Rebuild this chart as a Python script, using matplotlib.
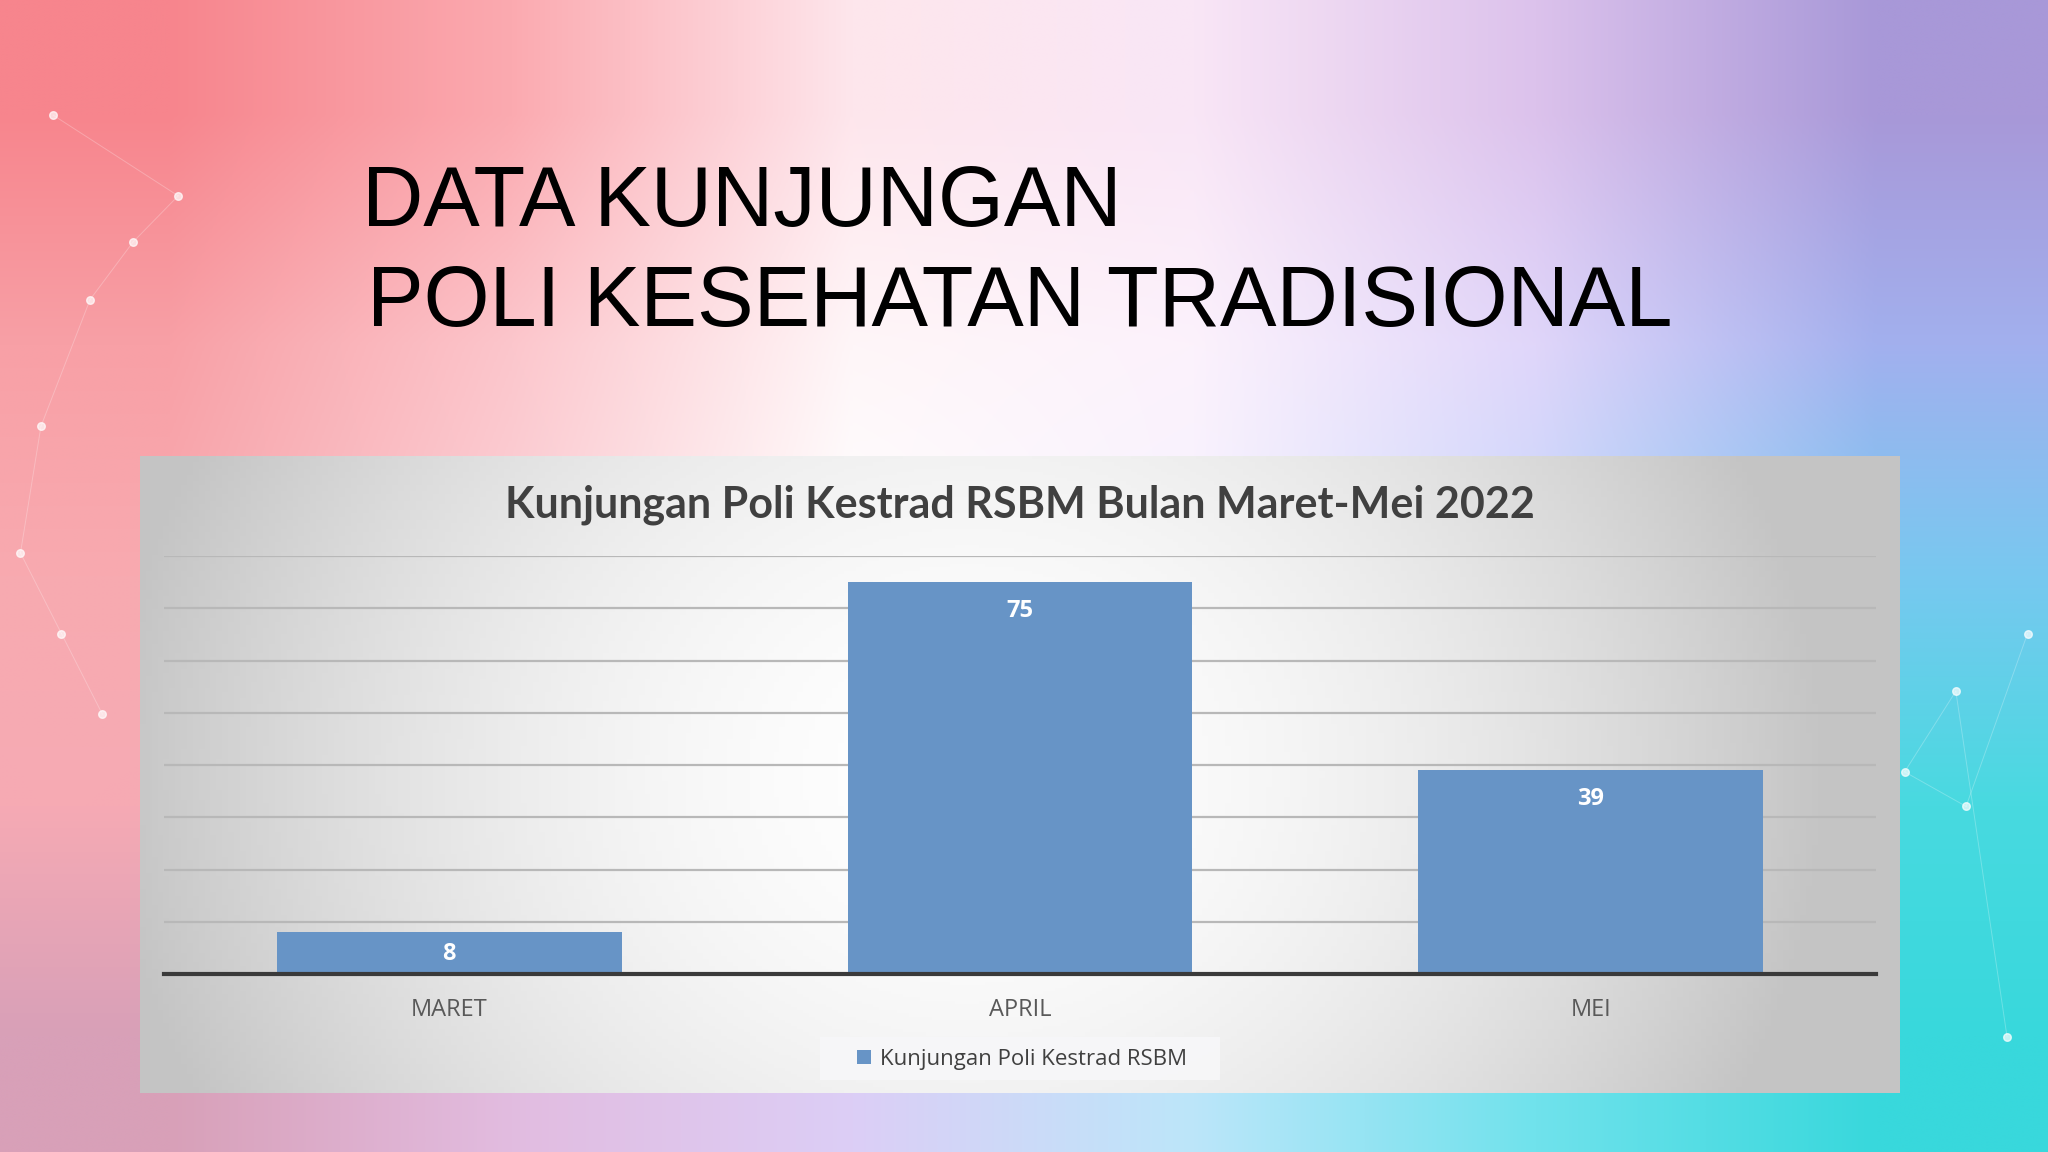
# -*- coding: utf-8 -*-
"""
Slide: DATA KUNJUNGAN POLI KESEHATAN TRADISIONAL
Bar chart kunjungan Poli Kestrad RSBM, Maret-Mei 2022
"""

import numpy as np
import matplotlib
matplotlib.use("Agg")
import matplotlib.pyplot as plt
from matplotlib.patches import Rectangle

# data
months = ["MARET", "APRIL", "MEI"]
visits = [8, 75, 39]
series_name = "Kunjungan Poli Kestrad RSBM"
chart_title = "Kunjungan Poli Kestrad RSBM Bulan Maret-Mei 2022"
slide_title = ["DATA KUNJUNGAN", "POLI KESEHATAN TRADISIONAL"]

BAR_COLOR = "#6794c6"
TEXT_DARK = "#404040"
TICK_COLOR = "#595959"

W, H = 2048, 1152
fig = plt.figure(figsize=(W / 100, H / 100), dpi=100)

# slide background (soft pink -> white -> purple/cyan gradient)
bg = fig.add_axes([0, 0, 1, 1], zorder=0)
grid_hex = [
    ["#f7858d", "#fbaab0", "#fee6ec", "#f9e6f6", "#dcc2ec", "#a898d8"],
    ["#f8a0a6", "#fcc6cc", "#fff6f8", "#fcf2fc", "#e0d6fa", "#a2b0ee"],
    ["#f8aab0", "#fbd0d6", "#ffffff", "#f6f2ff", "#c8d8fc", "#78c8f0"],
    ["#f6aab4", "#f6c6d6", "#f2eefc", "#d8e8fc", "#90e4f0", "#48dae0"],
    ["#d8a0b8", "#e2bce0", "#dccef6", "#bce6fa", "#70e2ec", "#38d8dc"],
]
grid_rgb = np.array([[matplotlib.colors.to_rgb(c) for c in row] for row in grid_hex])
bg.imshow(grid_rgb, extent=[0, 1, 0, 1], aspect="auto", interpolation="bilinear")
bg.set_xlim(0, 1)
bg.set_ylim(0, 1)
bg.axis("off")

# faint network decoration
nodes_left = [(0.026, 0.90), (0.087, 0.83), (0.065, 0.79), (0.044, 0.74), (0.02, 0.63),
              (0.01, 0.52), (0.03, 0.45), (0.05, 0.38)]
nodes_right = [(0.98, 0.10), (0.955, 0.40), (0.93, 0.33), (0.96, 0.30), (0.99, 0.45)]
for pts in (nodes_left, nodes_right):
    xs, ys = zip(*pts)
    for i in range(len(pts) - 1):
        bg.plot([xs[i], xs[i + 1]], [ys[i], ys[i + 1]], color="white", lw=0.7, alpha=0.25)
    bg.scatter(xs, ys, s=30, color="white", alpha=0.7, zorder=3)

# slide title
bg.text(362 / W, 1 - 226 / H, slide_title[0], fontsize=61, family="Liberation Sans",
        color="black", ha="left", va="baseline")
bg.text(367 / W, 1 - 326 / H, slide_title[1], fontsize=61, family="Liberation Sans",
        color="black", ha="left", va="baseline")

# chart panel (grey edges, white centre)
px0, px1, py0, py1 = 140, 1900, 456, 1093
panel = fig.add_axes([px0 / W, 1 - py1 / H, (px1 - px0) / W, (py1 - py0) / H], zorder=1)
gx, gy = np.meshgrid(np.linspace(-1, 1, 300), np.linspace(-1, 1, 200))
r = np.sqrt(((gx + 0.06) / 1.0) ** 2 + (gy / 2.4) ** 2)
shade = np.clip(1 - 0.24 * r ** 1.8, 0.77, 1.0)
panel.imshow(np.dstack([shade, shade, shade]), extent=[0, 1, 0, 1], aspect="auto")
panel.set_xlim(0, 1)
panel.set_ylim(0, 1)
panel.axis("off")

panel.text(0.5, 1 - (505 - py0) / (py1 - py0), chart_title, fontsize=31, family="Lato",
           fontweight="bold", color=TEXT_DARK, ha="center", va="center")

# legend box
lx0, lx1, ly0, ly1 = 820, 1220, 1037, 1080
panel.add_patch(Rectangle(((lx0 - px0) / (px1 - px0), 1 - (ly1 - py0) / (py1 - py0)),
                          (lx1 - lx0) / (px1 - px0), (ly1 - ly0) / (py1 - py0),
                          facecolor="#f7f7f9", edgecolor="none", alpha=0.9))

# bar plot area
ax = fig.add_axes([164 / W, 1 - 974 / H, (1876 - 164) / W, (974 - 556) / H], zorder=2)
ax.patch.set_alpha(0)
x = np.arange(len(months))
bars = ax.bar(x, visits, width=0.604, color=BAR_COLOR, edgecolor="none", zorder=3,
              label=series_name)
ax.set_xlim(-0.5, len(months) - 0.5)
ax.set_ylim(0, 80)
ax.set_yticks(np.arange(10, 81, 10))
ax.yaxis.grid(True, color="#b8b8b8", linewidth=1.6, zorder=1)
ax.set_axisbelow(True)
for s in ["top", "right", "left"]:
    ax.spines[s].set_visible(False)
ax.spines["bottom"].set_color("#3a3a3a")
ax.spines["bottom"].set_linewidth(3)
ax.spines["bottom"].set_zorder(4)
ax.tick_params(axis="y", left=False, labelleft=False)
ax.tick_params(axis="x", bottom=False, pad=14)
ax.set_xticks(x)
ax.set_xticklabels(months, fontsize=17, family="Open Sans", color=TICK_COLOR)

# data labels inside the bar end
px_per_unit = (974 - 556) / 80
for b, v in zip(bars, visits):
    off_px = min(25, v * px_per_unit / 2 - 3) + 4
    ax.annotate(str(v), (b.get_x() + b.get_width() / 2, v), xytext=(0, -off_px * 0.72),
                textcoords="offset points", ha="center", va="center",
                fontsize=17, fontweight="bold", family="Open Sans", color="white")

leg = ax.legend(loc="center", bbox_to_anchor=(1022 / W, 1 - 1059 / H),
                bbox_transform=fig.transFigure, frameon=False, fontsize=16,
                handlelength=0.6, handleheight=0.6, handletextpad=0.4)
for t in leg.get_texts():
    t.set_color(TEXT_DARK)
    t.set_family("Open Sans")

fig.savefig("out.png", dpi=100)
